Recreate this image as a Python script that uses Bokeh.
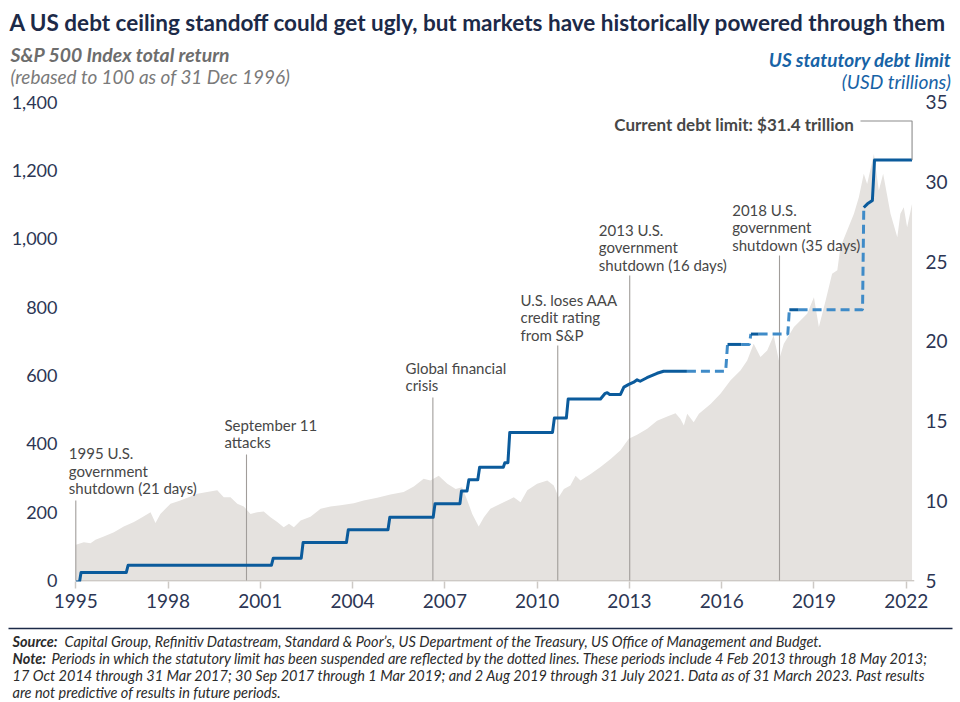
from bokeh.plotting import figure
from bokeh.layouts import column
from bokeh.models import (Range1d, LinearAxis, FixedTicker, NumeralTickFormatter,
                          ColumnDataSource, LabelSet)
from bokeh.core.properties import value
from bokeh.embed import file_html
from bokeh.resources import INLINE

# ---------------- data ----------------
sp_years = [1995.00, 1995.26, 1995.48, 1995.64, 1995.91, 1996.24, 1996.56, 1996.89, 1997.16, 1997.43,
            1997.59, 1997.75, 1998.08, 1998.40, 1998.73, 1998.95, 1999.27, 1999.60, 1999.81, 2000.03,
            2000.25, 2000.46, 2000.68, 2000.90, 2001.11, 2001.33, 2001.55, 2001.76, 2001.93, 2002.09,
            2002.31, 2002.63, 2002.96, 2003.28, 2003.61, 2004.04, 2004.36, 2004.80, 2005.23, 2005.66,
            2005.99, 2006.31, 2006.53, 2006.80, 2007.08, 2007.35, 2007.56, 2007.73, 2007.89, 2008.10,
            2008.27, 2008.48, 2008.81, 2009.03, 2009.24, 2009.46, 2009.68, 2010.00, 2010.33, 2010.54,
            2010.70, 2010.87, 2011.08, 2011.25, 2011.41, 2011.74, 2012.06, 2012.39, 2012.71, 2012.98,
            2013.25, 2013.58, 2013.90, 2014.23, 2014.50, 2014.66, 2014.77, 2014.88, 2015.09, 2015.26,
            2015.64, 2015.96, 2016.29, 2016.61, 2016.83, 2017.04, 2017.26, 2017.48, 2017.69, 2017.86,
            2018.02, 2018.35, 2018.56, 2018.78, 2019.00, 2019.16, 2019.38, 2019.59, 2019.76, 2019.86,
            2020.08, 2020.30, 2020.46, 2020.62, 2020.73, 2020.95, 2021.11, 2021.25, 2021.49, 2021.71,
            2021.81, 2021.92, 2022.03, 2022.19]
sp_values = [105, 112, 109, 119, 129, 141, 158, 171, 185, 200,
             168, 195, 225, 234, 246, 254, 259, 264, 244, 244,
             225, 217, 195, 200, 202, 185, 171, 156, 166, 156,
             176, 187, 210, 217, 220, 226, 234, 242, 252, 259,
             275, 298, 293, 307, 283, 268, 273, 234, 195, 158,
             185, 210, 225, 234, 244, 229, 264, 283, 293, 278,
             244, 268, 278, 307, 293, 312, 332, 356, 381, 415,
             427, 444, 468, 480, 490, 473, 454, 488, 463, 488,
             517, 547, 586, 615, 644, 693, 654, 673, 717, 644,
             693, 742, 761, 781, 829, 742, 820, 898, 908, 976,
             1025, 1074, 1122, 1191, 1161, 1249, 1142, 1191, 1074, 1005,
             1074, 1093, 1034, 1103]

debt_years = [1995.00, 1995.12, 1995.17, 1996.64, 1996.70, 2001.36, 2001.42, 2002.33, 2002.39, 2003.80,
              2003.86, 2005.15, 2005.21, 2006.62, 2006.68, 2007.49, 2007.54, 2007.72, 2007.78, 2008.07,
              2008.13, 2008.90, 2008.95, 2009.05, 2009.11, 2010.50, 2010.56, 2010.95, 2011.01, 2012.06,
              2012.20, 2012.28, 2012.36, 2012.71, 2012.82, 2012.98, 2013.14, 2013.25, 2013.35, 2013.57,
              2013.90, 2014.11, 2014.87, 2016.13, 2016.19, 2016.64, 2016.90, 2016.95, 2017.20, 2018.15,
              2018.20, 2018.50, 2020.58, 2020.62, 2020.74, 2020.90, 2020.97, 2022.19]
debt_values = [4.90, 4.90, 5.50, 5.50, 5.95, 5.95, 6.40, 6.40, 7.38, 7.38,
               8.18, 8.18, 8.97, 8.97, 9.82, 9.82, 10.62, 10.62, 11.32, 11.32,
               12.10, 12.10, 12.39, 12.39, 14.29, 14.29, 15.19, 15.19, 16.39, 16.39,
               16.72, 16.78, 16.67, 16.67, 17.13, 17.30, 17.44, 17.59, 17.50, 17.72,
               18.00, 18.13, 18.13, 18.13, 19.81, 19.81, 19.81, 20.46, 20.46, 20.46,
               21.99, 21.99, 21.99, 28.40, 28.63, 28.84, 31.38, 31.38]
# 1 = segment starting at that point lies in a suspension period (dotted)
debt_suspended = [0, 0, 0, 0, 0, 0, 0, 0, 0, 0,
                  0, 0, 0, 0, 0, 0, 0, 0, 0, 0,
                  0, 0, 0, 0, 0, 0, 0, 0, 0, 0,
                  0, 0, 0, 0, 0, 0, 0, 0, 0, 0,
                  0, 0, 1, 1, 0, 1, 1, 0, 1, 1,
                  0, 1, 1, 0, 0, 0, 0]

event_years = [1995.00, 2000.55, 2006.61, 2010.67, 2013.01, 2017.88]
event_labels = [["1995 U.S.", "government", "shutdown (21 days)"],
                ["September 11", "attacks"],
                ["Global financial", "crisis"],
                ["U.S. loses AAA", "credit rating", "from S&P"],
                ["2013 U.S.", "government", "shutdown (16 days)"],
                ["2018 U.S.", "government", "shutdown (35 days)"]]

left_ticks = [0, 200, 400, 600, 800, 1000, 1200, 1400]
right_ticks = [5, 10, 15, 20, 25, 30, 35]
year_ticks = [1995, 1998, 2001, 2004, 2007, 2010, 2013, 2016, 2019, 2022]

title_text = "A US debt ceiling standoff could get ugly, but markets have historically powered through them"
left_title = "S&P 500 Index total return"
left_sub = "(rebased to 100 as of 31 Dec 1996)"
right_title = "US statutory debt limit"
right_sub = "(USD trillions)"
current_label = "Current debt limit: $31.4 trillion"
foot_lines = [("Source:", "Capital Group, Refinitiv Datastream, Standard & Poor\u2019s, US Department of the Treasury, US Office of Management and Budget."),
              ("Note:", "Periods in which the statutory limit has been suspended are reflected by the dotted lines. These periods include 4 Feb 2013 through 18 May 2013;"),
              ("", "17 Oct 2014 through 31 Mar 2017; 30 Sep 2017 through 1 Mar 2019; and 2 Aug 2019 through 31 July 2021. Data as of 31 March 2023. Past results"),
              ("", "are not predictive of results in future periods.")]

# ---------------- layout / style ----------------
FONT = value("Lato")
W = 958
HDR_H, MAIN_H, FTR_H = 91, 535, 74
NAVY = "#1c2a48"
TICK = "#2c3654"
AREA = "#e5e2df"
BLUE = "#0b5b9c"
BLUE_D = "#3f8bc8"
EVT = "#a19d9a"
ANN = "#474747"
AXIS = "#cdc9c5"

# image-pixel -> data helpers for main chart
PX_PER_YEAR = 30.756
def dx(ix):
    return 1995 + (ix - 75.3) / PX_PER_YEAR
def dy(iy):
    return (580 - iy) * 1400 / 478.2
def ddy(iy):
    return 5 + (580 - iy) * 30 / 478.2

def plain_fig(h):
    f = figure(width=W, height=h, x_range=Range1d(0, W), y_range=Range1d(0, h),
               output_backend="svg", toolbar_location=None, x_axis_location=None,
               y_axis_location=None, min_border=0, outline_line_color=None, tools="")
    f.grid.visible = False
    f.frame_align = False
    return f

# ---------------- header (page pixels) ----------------
hdr = plain_fig(HDR_H)
hy = lambda iy: HDR_H - iy
hdr.text(x=[9], y=[hy(22)], text=[title_text], text_font=FONT, text_font_size="22.5px",
         text_font_style="bold", text_color=NAVY, text_baseline="alphabetic")
hdr.text(x=[10], y=[hy(54)], text=[left_title], text_font=FONT, text_font_size="19.4px",
         text_font_style="bold italic", text_color="#6d6d6d", text_baseline="alphabetic")
hdr.text(x=[10], y=[hy(75.5)], text=[left_sub], text_font=FONT, text_font_size="18.9px",
         text_font_style="italic", text_color="#7a7a7a", text_baseline="alphabetic")
hdr.text(x=[950.5], y=[hy(58.5)], text=[right_title], text_font=FONT, text_font_size="19px",
         text_font_style="bold italic", text_color="#1763a6", text_baseline="alphabetic",
         text_align="right")
hdr.text(x=[950.5], y=[hy(80.5)], text=[right_sub], text_font=FONT, text_font_size="19.2px",
         text_font_style="italic", text_color="#1763a6", text_baseline="alphabetic",
         text_align="right")

# ---------------- main chart ----------------
FRAME_L, FRAME_R, FRAME_T, FRAME_B = 66, 914, 95, 581
X0, X1 = dx(FRAME_L), dx(FRAME_R)
Y0, Y1 = dy(FRAME_B), dy(FRAME_T)
p = figure(width=W, height=MAIN_H, x_range=Range1d(X0, X1), y_range=Range1d(Y0, Y1),
           output_backend="svg", toolbar_location=None, tools="",
           min_border_left=FRAME_L, min_border_right=W - FRAME_R,
           min_border_top=FRAME_T - HDR_H, min_border_bottom=HDR_H + MAIN_H - FRAME_B,
           outline_line_color=None, background_fill_color="white")
p.frame_align = False
p.grid.visible = False
p.extra_y_ranges = {"debt": Range1d(5 + Y0 * 30 / 1400, 5 + Y1 * 30 / 1400)}

# left axis
ya = p.yaxis[0]
ya.ticker = FixedTicker(ticks=left_ticks)
ya.formatter = NumeralTickFormatter(format="0,0")
ya.axis_line_color = None
ya.major_tick_line_color = None
ya.minor_tick_line_color = None
ya.major_tick_out = 0
ya.major_tick_in = 0
ya.minor_tick_out = 0
ya.major_label_standoff = 9
ya.major_label_text_font = "Lato"
ya.major_label_text_font_size = "18px"
ya.major_label_text_color = TICK

# right axis
ra = LinearAxis(y_range_name="debt", ticker=FixedTicker(ticks=right_ticks))
ra.axis_line_color = None
ra.major_tick_line_color = None
ra.minor_tick_line_color = None
ra.major_tick_out = 0
ra.major_tick_in = 0
ra.minor_tick_out = 0
ra.major_label_standoff = 11
ra.major_label_text_font = "Lato"
ra.major_label_text_font_size = "19px"
ra.major_label_text_color = TICK
p.add_layout(ra, "right")

# bottom axis (baseline drawn from the data start, ticks from the axis)
xa = p.xaxis[0]
xa.ticker = FixedTicker(ticks=year_ticks)
xa.axis_line_color = None
xa.major_tick_line_color = AXIS
xa.major_tick_line_width = 1.5
xa.major_tick_out = 7
xa.major_tick_in = 0
xa.minor_tick_line_color = None
xa.minor_tick_out = 0
xa.major_label_standoff = 5
xa.major_label_text_font = "Lato"
xa.major_label_text_font_size = "19px"
xa.major_label_text_color = TICK

# S&P 500 area
p.varea(x=sp_years, y1=0, y2=sp_values, fill_color=AREA)
p.segment(x0=[sp_years[0]], y0=[dy(580.4)], x1=[X1], y1=[dy(580.4)], line_color=AXIS,
          line_width=1.6)

# event lines + labels
event_top_px = [500, 454, 397, 345, 275, 255]
label_left_px = [68.3, 224, 405, 520, 598.3, 731.7]
label_base_px = [458.5, 430, 373.3, 305, 235, 215]
LINE_GAP = 17.6
p.segment(x0=event_years, y0=[0] * len(event_years), x1=event_years,
          y1=[dy(t) for t in event_top_px], line_color=EVT, line_width=1.1)
tx, ty, tt = [], [], []
for lines, lx, by in zip(event_labels, label_left_px, label_base_px):
    for i, s in enumerate(lines):
        tx.append(dx(lx))
        ty.append(dy(by + i * LINE_GAP))
        tt.append(s)
ev_src = ColumnDataSource(dict(x=tx, y=ty, text=tt))
p.add_layout(LabelSet(x="x", y="y", text="text", source=ev_src, text_font=FONT,
                      text_font_size="15px", text_color=ANN, text_baseline="alphabetic",
                      text_align="left"))

# debt limit line (solid = in force, dashed = suspended)
solid_xs, solid_ys, dash_xs, dash_ys = [], [], [], []
cur_x, cur_y = [debt_years[0]], [debt_values[0]]
cur_flag = debt_suspended[0]
for i in range(1, len(debt_years)):
    flag = debt_suspended[i - 1]
    if flag != cur_flag:
        (dash_xs if cur_flag else solid_xs).append(cur_x)
        (dash_ys if cur_flag else solid_ys).append(cur_y)
        cur_x, cur_y = [debt_years[i - 1]], [debt_values[i - 1]]
        cur_flag = flag
    cur_x.append(debt_years[i])
    cur_y.append(debt_values[i])
(dash_xs if cur_flag else solid_xs).append(cur_x)
(dash_ys if cur_flag else solid_ys).append(cur_y)

p.multi_line(xs=dash_xs, ys=dash_ys, y_range_name="debt", line_color=BLUE_D, line_width=3,
             line_dash="9 5")
p.multi_line(xs=solid_xs, ys=solid_ys, y_range_name="debt", line_color=BLUE, line_width=3,
             line_join="round")

# current debt limit callout
lead_y = ddy(120.5)
p.line(x=[dx(860), debt_years[-1], debt_years[-1]], y=[lead_y, lead_y, debt_values[-1]],
       y_range_name="debt", line_color="#8c8c8c", line_width=1.1)
p.text(x=[dx(853.3)], y=[dy(123.5)], text=[current_label], text_font=FONT,
       text_font_size="17px", text_font_style="bold", text_color=ANN,
       text_baseline="alphabetic", text_align="right")

# ---------------- footer (page pixels) ----------------
ftr = plain_fig(FTR_H)
fy = lambda iy: 626 + FTR_H - iy
ftr.line(x=[8, 952], y=[fy(628), fy(628)], line_color=NAVY, line_width=1.5)
foot_base = [640.5, 658, 675, 692]
bold_w = {"Source:": 52, "Note:": 39, "": 0}
bx, byy, bt, nx, ny, nt = [], [], [], [], [], []
for (b, n), base in zip(foot_lines, foot_base):
    if b:
        bx.append(12); byy.append(fy(base)); bt.append(b)
    nx.append(12 + bold_w[b]); ny.append(fy(base)); nt.append(n)
ftr.text(x=bx, y=byy, text=bt, text_font=FONT, text_font_size="14.5px",
         text_font_style="bold italic", text_color="#2b2b2b", text_baseline="alphabetic")
ftr.text(x=nx, y=ny, text=nt, text_font=FONT, text_font_size="14.5px",
         text_font_style="italic", text_color="#2b2b2b", text_baseline="alphabetic")

layout = column(hdr, p, ftr, spacing=0)
open("out.html", "w").write(file_html(layout, INLINE))
